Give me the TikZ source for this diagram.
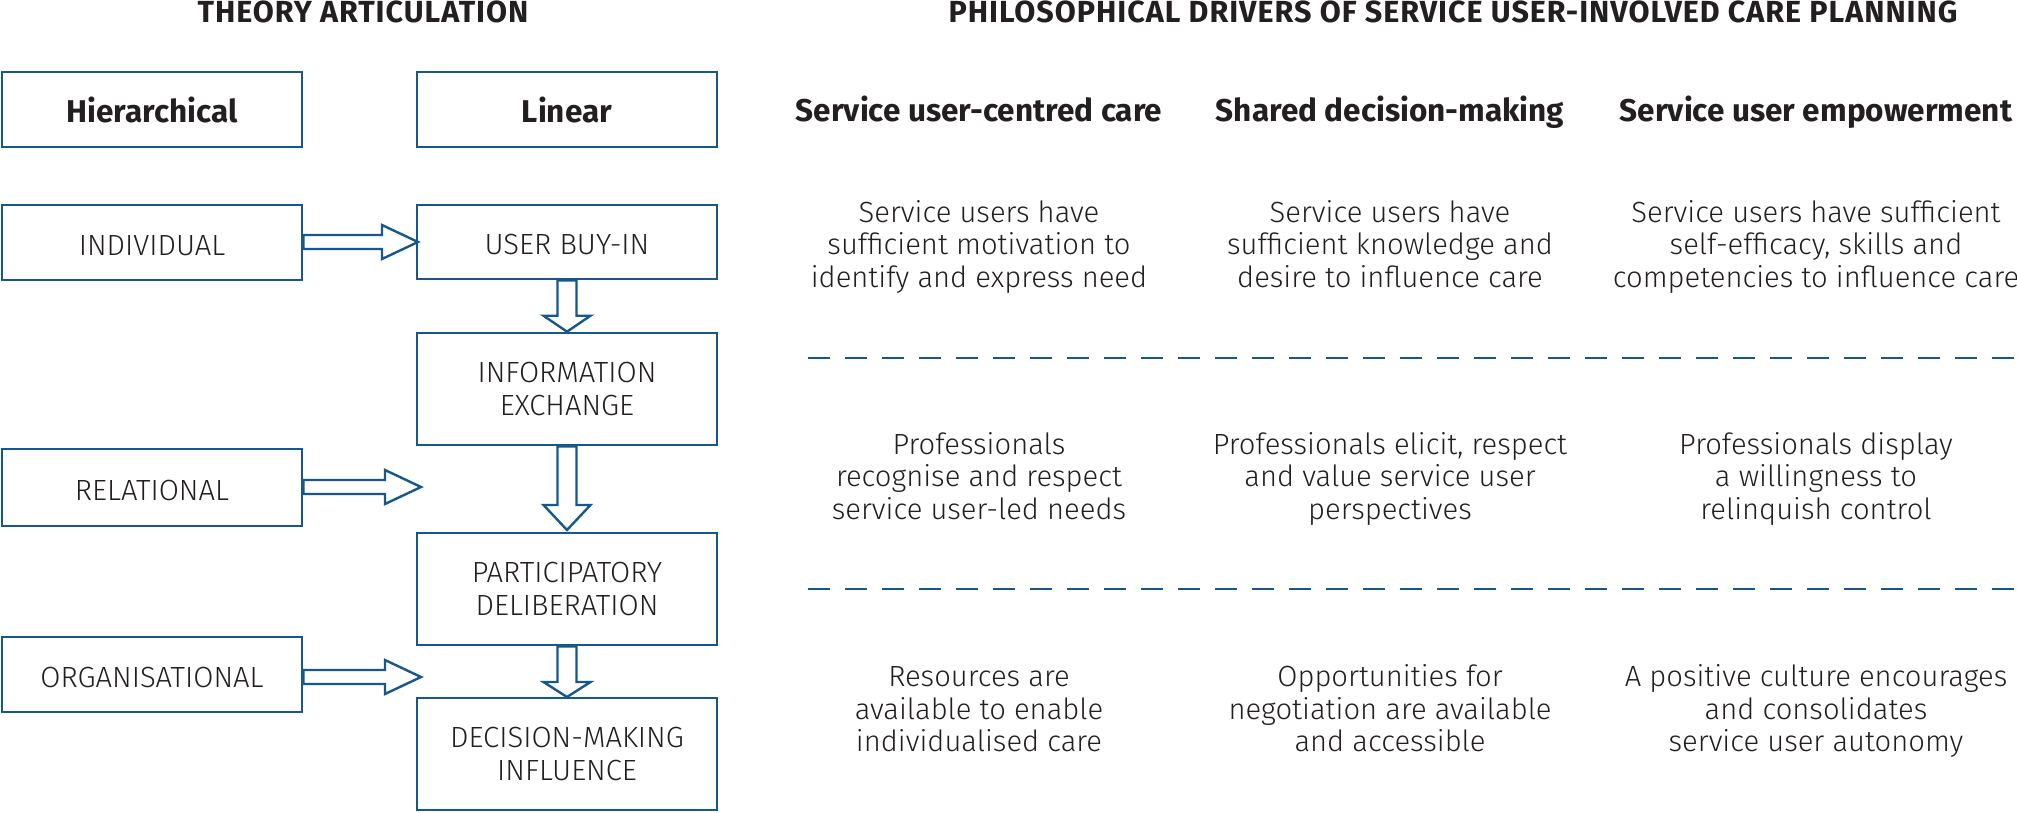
\documentclass[tikz,border=0pt]{standalone}
\usepackage{fontspec}
\setmainfont{Fira Sans}
\newfontfamily\bodyfont{Fira Sans}[UprightFont={* Light}]
\newfontfamily\headfont{Fira Sans}[UprightFont={* Bold}]
\newfontfamily\titlefont{Fira Sans}[UprightFont={* Bold},LetterSpace=3.2]
\usetikzlibrary{calc}
\definecolor{boxblue}{RGB}{22,88,140}
\definecolor{ink}{RGB}{35,31,32}
\newcommand\harr[2]{% start, tip
  \draw[blockarrow] let \p1=(#1), \p2=(#2) in
    (\x1,\y2+7pt) -- (\x2-36pt,\y2+7pt) -- (\x2-36pt,\y2+17pt) -- (\x2,\y2)
    -- (\x2-36pt,\y2-17pt) -- (\x2-36pt,\y2-7pt) -- (\x1,\y2-7pt) -- cycle;}
\newcommand\varr[3]{% start, tip, head length
  \draw[blockarrow] let \p1=(#1), \p2=(#2) in
    (\x1-9.5pt,\y1) -- (\x1-9.5pt,\y2+#3) -- (\x1-23.5pt,\y2+#3) -- (\x1,\y2)
    -- (\x1+23.5pt,\y2+#3) -- (\x1+9.5pt,\y2+#3) -- (\x1+9.5pt,\y1) -- cycle;}
\begin{document}
\begin{tikzpicture}[x=1pt,y=-1pt,
  box/.style={draw=boxblue,line width=2.6pt,minimum width=300pt,inner sep=0pt,
    align=center,font=\bodyfont\fontsize{29.2}{33}\selectfont,text=ink},
  onebox/.style={box,execute at begin node={\rule{0pt}{26pt}}},
  twobox/.style={box,execute at begin node={\rule{0pt}{29pt}}},
  hbox/.style={box,font=\headfont\fontsize{31.5}{33}\selectfont,
    execute at begin node={\rule{0pt}{25pt}}},
  body/.style={align=center,inner sep=0pt,font=\bodyfont\fontsize{29.2}{32.5}\selectfont,
    text=ink,anchor=base},
  colhead/.style={inner sep=0pt,font=\headfont\fontsize{31.5}{33}\selectfont,text=ink,anchor=base},
  title/.style={inner sep=0pt,font=\titlefont\fontsize{30.5}{32}\selectfont,text=ink,anchor=base},
  blockarrow/.style={draw=boxblue,line width=2.4pt,fill=white,line join=miter},
  sep/.style={draw=boxblue,line width=2pt,dash pattern=on 22pt off 15pt}
]
\useasboundingbox (0,0) rectangle (2017,813);

% left boxes
\node[hbox,minimum height=75pt] (hier) at (152,109.5) {Hierarchical};
\node[hbox,minimum height=75pt] (lin) at (567,109.5) {Linear};
\node[onebox,minimum height=75pt] (indiv) at (152,242.5) {INDIVIDUAL};
\node[onebox,minimum height=74pt] (buyin) at (567,242) {USER BUY-IN};
\node[twobox,minimum height=112pt] (info) at (567,389) {INFORMATION\\EXCHANGE};
\node[onebox,minimum height=77pt] (relat) at (152,487.5) {RELATIONAL};
\node[twobox,minimum height=112pt] (partic) at (567,589) {PARTICIPATORY\\DELIBERATION};
\node[onebox,minimum height=75pt] (organ) at (152,674.5) {ORGANISATIONAL};
\node[twobox,minimum height=112pt] (decis) at (567,754) {DECISION-MAKING\\INFLUENCE};

% arrow tips
\coordinate (indtip) at (418,242);
\coordinate (reltip) at (421,487);
\coordinate (orgtip) at (421,677);
\coordinate (partip) at (567,530);
\coordinate (dectip) at (567,697);

\harr{indiv.east}{indtip}
\harr{relat.east}{reltip}
\harr{organ.east}{orgtip}
\varr{buyin.south}{info.north}{16pt}
\varr{info.south}{partip}{25pt}
\varr{partic.south}{dectip}{15pt}

% titles
\node[title] (t1) at (363,23) {THEORY ARTICULATION};
\node[title] (t2) at (1453,23) {PHILOSOPHICAL DRIVERS OF SERVICE USER-INVOLVED CARE PLANNING};
\node[colhead] (c1) at (979,122) {Service user-centred care};
\node[colhead] (c2) at (1390,122) {Shared decision-making};
\node[colhead] (c3) at (1816,122) {Service user empowerment};

% separators
\coordinate (s1a) at (808,358); \coordinate (s1b) at (2017,358);
\coordinate (s2a) at (808,589); \coordinate (s2b) at (2017,589);
\draw[sep] (s1a) -- (s1b);
\draw[sep] (s2a) -- (s2b);

% body text (anchor base = last line)
\node[body] (r1c1) at (979,287) {Service users have\\sufficient motivation to\\identify and express need};
\node[body] (r1c2) at (1390,287) {Service users have\\sufficient knowledge and\\desire to influence care};
\node[body] (r1c3) at (1816,287) {Service users have sufficient\\self-efficacy, skills and\\competencies to influence care};
\node[body] (r2c1) at (979,519) {Professionals\\recognise and respect\\service user-led needs};
\node[body] (r2c2) at (1390,519) {Professionals elicit, respect\\and value service user\\perspectives};
\node[body] (r2c3) at (1816,519) {Professionals display\\a willingness to\\relinquish control};
\node[body] (r3c1) at (979,751.5) {Resources are\\available to enable\\individualised care};
\node[body] (r3c2) at (1390,751.5) {Opportunities for\\negotiation are available\\and accessible};
\node[body] (r3c3) at (1816,751.5) {A positive culture encourages\\and consolidates\\service user autonomy};
\end{tikzpicture}
\end{document}
